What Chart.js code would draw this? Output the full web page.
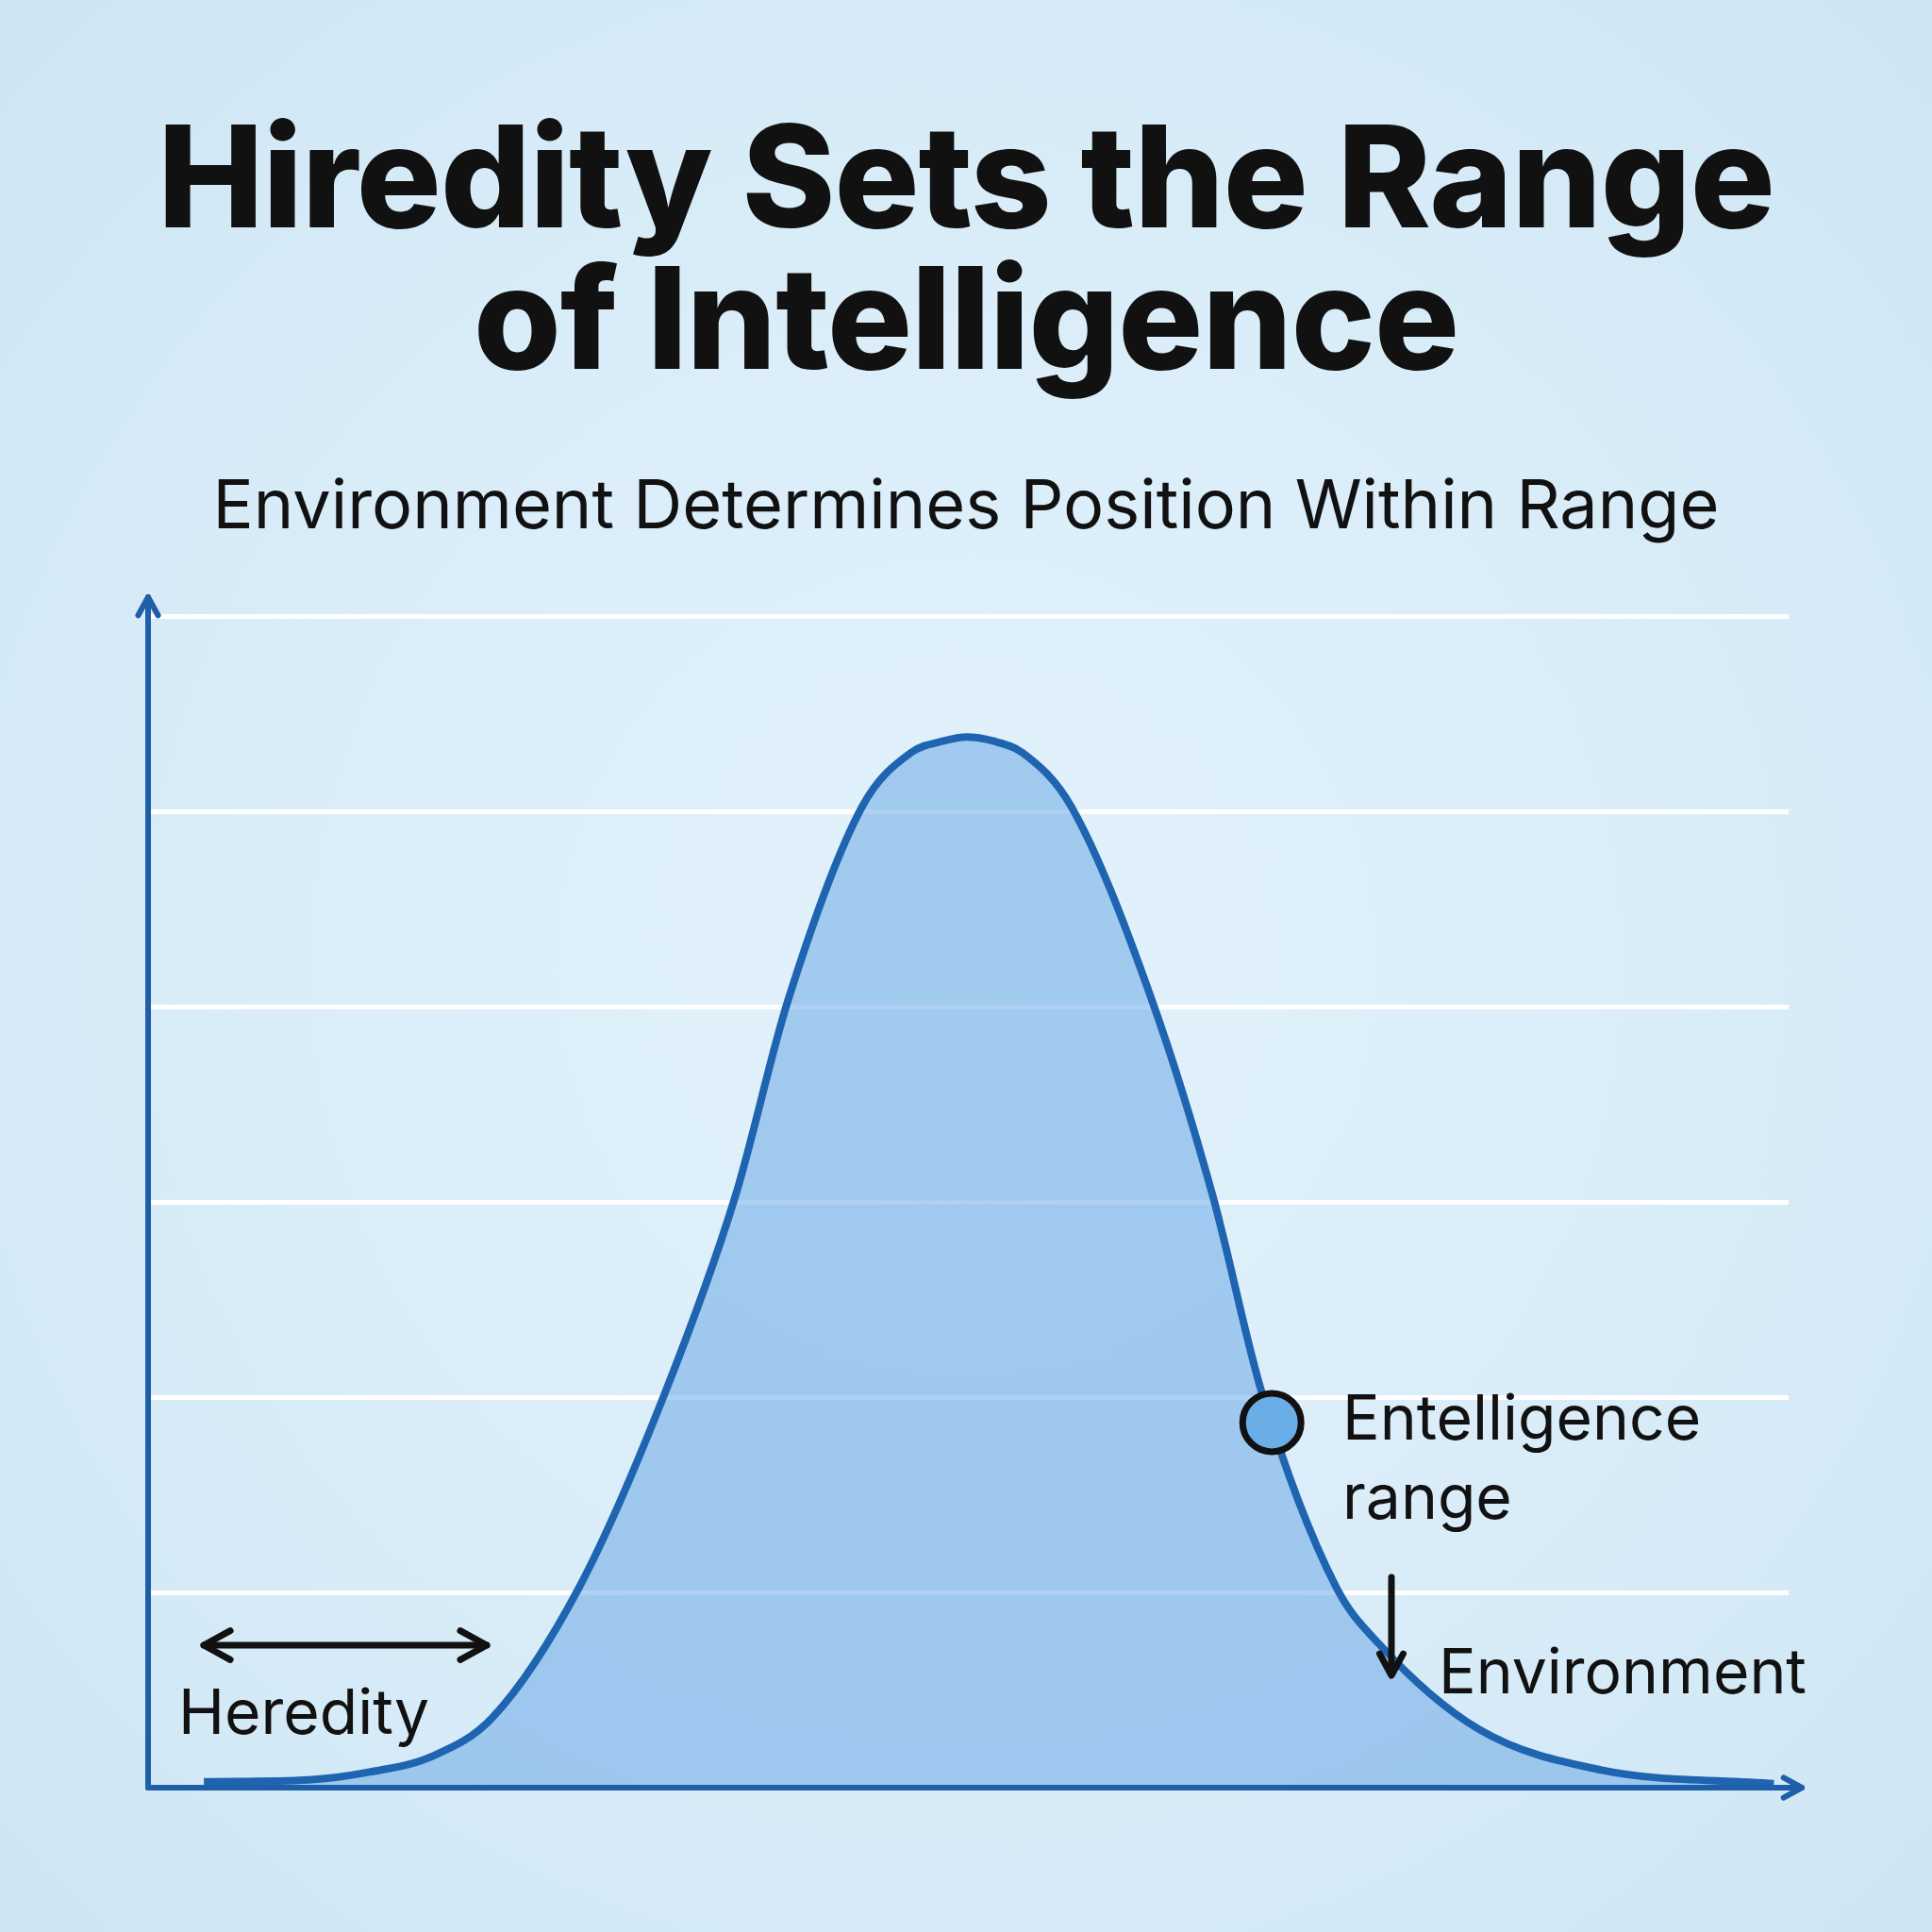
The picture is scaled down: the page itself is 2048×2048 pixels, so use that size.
<!DOCTYPE html>
<html><head><meta charset="utf-8">
<script src="https://cdn.jsdelivr.net/npm/chart.js@4.4.1/dist/chart.umd.min.js"></script>
<style>
html,body{margin:0;padding:0;width:2048px;height:2048px;overflow:hidden;
background:radial-gradient(ellipse at 50% 50%,#e2f2fb 0%,#d8ecf8 60%,#cfe5f4 100%);font-family:Inter,"Noto Sans",sans-serif;}
#wrap{position:absolute;left:0;top:0;width:2048px;height:2048px;}
.t{position:absolute;left:0;width:2048px;text-align:center;color:#111;}
#t1{top:112px;font-size:150px;font-weight:800;line-height:150px;letter-spacing:-1px}
#t2{top:490px;font-size:72px;font-weight:400}
</style></head><body>
<div id="wrap"><canvas id="c" width="2048" height="2048"></canvas></div>
<div class="t" id="t1">Hiredity Sets the Range<br>of Intelligence</div>
<div class="t" id="t2">Environment Determines Position Within Range</div>
<script>
const curveX=[3.4,9.8,13.5,17.3,21.0,26.3,31.5,35.8,39.0,43.5,46.5,48.5,49.9,51.5,53.3,56.3,61.2,64.9,67.9,72.4,75.1,81.1,88.6,99.1];
const curveY=[0.03,0.04,0.08,0.16,0.36,1.03,2.02,3.03,4.03,5.02,5.3,5.36,5.38,5.36,5.3,5.02,4.03,3.03,2.02,1.03,0.73,0.3,0.09,0.02];
const markerX=[68.5], markerY=[1.87];
const labelRange=["Entelligence","range"], labelEnv="Environment", labelHer="Heredity";
const yTicks=[0,1,2,3,4,5,6];

function arrowHead(ctx,x,y,ang,s){ctx.beginPath();ctx.moveTo(x-s*Math.cos(ang-0.5),y-s*Math.sin(ang-0.5));ctx.lineTo(x,y);ctx.lineTo(x-s*Math.cos(ang+0.5),y-s*Math.sin(ang+0.5));ctx.stroke();}
const deco={id:'deco',afterDatasetsDraw(ch){
 const c=ch.ctx,xs=ch.scales.x,ys=ch.scales.y,a=ch.chartArea;
 c.save();c.lineCap='round';c.lineJoin='round';
 c.strokeStyle='#1f5ea8';c.lineWidth=6;
 const x0=xs.getPixelForValue(0),y0=ys.getPixelForValue(0);
 c.beginPath();c.moveTo(x0,y0);c.lineTo(x0,a.top-20);c.stroke();arrowHead(c,x0,a.top-20,-Math.PI/2,22);
 c.beginPath();c.moveTo(x0,y0);c.lineTo(a.right+14,y0);c.stroke();arrowHead(c,a.right+14,y0,0,22);
 c.fillStyle='#111';c.font='66px Inter, "Noto Sans", sans-serif';c.textBaseline='middle';
 const px=xs.getPixelForValue(75.1),py=ys.getPixelForValue(1.87);
 c.fillText(labelRange[0],px-40,py-2);c.fillText(labelRange[1],px-40,py+82);
 c.fillText(labelEnv,px+62,ys.getPixelForValue(0.58));
 c.fillText(labelHer,189,1818);
 c.strokeStyle='#111';c.lineWidth=7;
 const ax=px+12;c.beginPath();c.moveTo(ax,1672);c.lineTo(ax,1774);c.stroke();arrowHead(c,ax,1776,Math.PI/2,26);
 c.beginPath();c.moveTo(216,1744);c.lineTo(516,1744);c.stroke();arrowHead(c,516,1744,0,32);arrowHead(c,216,1744,Math.PI,32);
 c.restore();}};
new Chart(document.getElementById('c'),{
 data:{datasets:[
  {type:'line',data:curveX.map((x,i)=>({x,y:curveY[i]})),borderColor:'#1f64b0',borderWidth:8,
   backgroundColor:'rgba(110,170,230,0.55)',fill:'origin',cubicInterpolationMode:'monotone',pointRadius:0,order:2},
  {type:'scatter',data:markerX.map((x,i)=>({x,y:markerY[i]})),pointRadius:31,pointBackgroundColor:'#6aaee8',
   pointBorderColor:'#111',pointBorderWidth:7,order:1}]},
 options:{responsive:false,devicePixelRatio:1,animation:false,
  layout:{padding:{left:157,right:152,top:653,bottom:145}},
  plugins:{legend:{display:false},tooltip:{enabled:false}},
  scales:{x:{type:'linear',min:0,max:100,display:true,ticks:{display:false},grid:{display:false},border:{display:false}},
   y:{min:0,max:6,afterBuildTicks:s=>{s.ticks=yTicks.map(v=>({value:v}))},ticks:{display:false},border:{display:false},
    grid:{color:c=>c.tick.value===0?'rgba(0,0,0,0)':'#ffffff',lineWidth:5,drawTicks:false}}}},
 plugins:[deco]});
</script></body></html>
